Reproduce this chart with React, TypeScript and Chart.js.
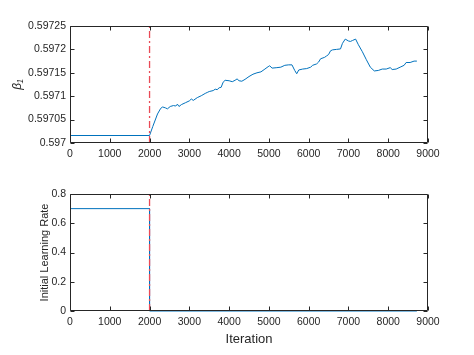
import React, { useEffect, useRef } from "react";
import { Chart, registerables } from "chart.js";

Chart.register(...registerables);

// ---- data ----
const iterTop = [
  0, 2000, 2080, 2200, 2280, 2330, 2400, 2450, 2520, 2600, 2660, 2700, 2740, 2800, 2900, 3000, 3050, 3100,
  3200, 3300, 3400, 3450, 3500, 3600, 3650, 3700, 3750, 3800, 3850, 3900, 4000, 4080, 4150, 4200, 4250,
  4320, 4400, 4500, 4600, 4700, 4800, 4900, 4980, 5020, 5080, 5200, 5300, 5400, 5500, 5580, 5650, 5700,
  5750, 5850, 5950, 6050, 6100, 6200, 6250, 6300, 6400, 6450, 6500, 6550, 6600, 6700, 6800, 6850, 6920,
  7000, 7050, 7100, 7180, 7250, 7350, 7450, 7550, 7650, 7750, 7850, 7950, 8050, 8100, 8200, 8300, 8400,
  8450, 8550, 8650, 8720,
];
const betaTop = [
  0.597016, 0.597016, 0.597035, 0.597062, 0.597074, 0.597077, 0.597075, 0.597073, 0.597078, 0.59708,
  0.597079, 0.597083, 0.597078, 0.597082, 0.597086, 0.59709, 0.597094, 0.597091, 0.597097, 0.597101,
  0.597106, 0.597108, 0.59711, 0.597112, 0.597115, 0.597114, 0.597118, 0.597119, 0.59713, 0.597134,
  0.597133, 0.597131, 0.597134, 0.597137, 0.597133, 0.597132, 0.597136, 0.597142, 0.597147, 0.59715,
  0.597152, 0.597158, 0.597163, 0.597165, 0.59716, 0.597161, 0.597162, 0.597166, 0.597167, 0.597167,
  0.597155, 0.597148, 0.597156, 0.597158, 0.597159, 0.597162, 0.597166, 0.597169, 0.597173, 0.59718,
  0.597183, 0.597186, 0.597189, 0.597197, 0.597199, 0.5972, 0.597201, 0.597213, 0.597222, 0.597218,
  0.597217, 0.597219, 0.597222, 0.59721, 0.597195, 0.597178, 0.597162, 0.597154, 0.597155, 0.597158,
  0.597158, 0.597161, 0.597157, 0.597158, 0.597162, 0.597166, 0.597172, 0.597172, 0.597175, 0.597175,
];
const iterBottom = [0, 2000, 2000, 8720];
const rateBottom = [0.7, 0.7, 0, 0];
const switchIteration = 2000;

const xTicks = [0, 1000, 2000, 3000, 4000, 5000, 6000, 7000, 8000, 9000];
const yTicksTop = [0.597, 0.59705, 0.5971, 0.59715, 0.5972, 0.59725];
const yTicksBottom = [0, 0.2, 0.4, 0.6, 0.8];

const FONT = "'Liberation Sans', Arial, Helvetica, sans-serif";
const BLUE = "#0072BD";
const RED = "#EA4A56";
const AXIS = "#262626";

const fmt = (v: number) => String(Number(v.toFixed(6)));

const boxPlugin = {
  id: "matlabBox",
  afterDatasetsDraw(chart: any) {
    const { ctx, chartArea: a, scales } = chart;
    const tl = 4;
    ctx.save();
    ctx.setLineDash([]);
    ctx.strokeStyle = AXIS;
    ctx.lineWidth = 1;
    ctx.beginPath();
    const L = Math.round(a.left) + 0.5;
    const R = Math.round(a.right) - 0.5;
    const T = Math.round(a.top) + 0.5;
    const B = Math.round(a.bottom) - 0.5;
    ctx.rect(L, T, R - L, B - T);
    scales.x.ticks.forEach((t: any) => {
      const px = Math.round(scales.x.getPixelForValue(t.value)) + 0.5;
      ctx.moveTo(px, B);
      ctx.lineTo(px, B - tl);
      ctx.moveTo(px, T);
      ctx.lineTo(px, T + tl);
    });
    scales.y.ticks.forEach((t: any) => {
      const py = Math.round(scales.y.getPixelForValue(t.value)) + 0.5;
      ctx.moveTo(L, py);
      ctx.lineTo(L + tl, py);
      ctx.moveTo(R, py);
      ctx.lineTo(R - tl, py);
    });
    ctx.stroke();
    ctx.restore();
  },
};

function makeConfig(opts: {
  xs: number[];
  ys: number[];
  yTicks: number[];
  yTitle: string;
  yTitleItalic: boolean;
  yTitlePad: number;
  xTitle: string | null;
  padTop: number;
  xHeight: number;
}) {
  const yMin = opts.yTicks[0];
  const yMax = opts.yTicks[opts.yTicks.length - 1];
  return {
    type: "line" as const,
    data: {
      datasets: [
        {
          label: "series",
          data: opts.xs.map((x, i) => ({ x, y: opts.ys[i] })),
          borderColor: BLUE,
          backgroundColor: BLUE,
          borderWidth: 1,
          pointRadius: 0,
          fill: false,
          tension: 0,
          clip: 3,
          order: 2,
        },
        {
          label: "switch",
          data: [
            { x: switchIteration, y: yMin },
            { x: switchIteration, y: yMax },
          ],
          borderColor: RED,
          backgroundColor: RED,
          borderWidth: 1.3,
          borderDash: [7, 3, 2, 3],
          pointRadius: 0,
          fill: false,
          order: 1,
        },
      ],
    },
    options: {
      responsive: false,
      animation: false,
      events: [],
      layout: { padding: { top: opts.padTop, right: 46, left: 0, bottom: 0 } },
      plugins: { legend: { display: false }, tooltip: { enabled: false } },
      scales: {
        x: {
          type: "linear",
          min: 0,
          max: 9000,
          afterBuildTicks: (s: any) => {
            s.ticks = xTicks.map((v) => ({ value: v }));
          },
          afterFit: (s: any) => {
            s.height = opts.xHeight;
          },
          grid: { display: false, drawTicks: false },
          border: { display: false },
          ticks: {
            padding: 5,
            color: AXIS,
            font: { family: FONT, size: 10.5 },
            maxRotation: 0,
            callback: (v: any) => String(v),
          },
          title: opts.xTitle
            ? {
                display: true,
                text: opts.xTitle,
                color: AXIS,
                font: { family: FONT, size: 13 },
                padding: { top: 2, bottom: 8 },
              }
            : { display: false },
        },
        y: {
          type: "linear",
          min: yMin,
          max: yMax,
          afterBuildTicks: (s: any) => {
            s.ticks = opts.yTicks.map((v) => ({ value: v }));
          },
          afterFit: (s: any) => {
            s.width = 70;
          },
          grid: { display: false, drawTicks: false },
          border: { display: false },
          ticks: {
            padding: 4,
            color: AXIS,
            font: { family: FONT, size: 10.5 },
            callback: (v: any) => fmt(Number(v)),
          },
          title: {
            display: true,
            text: opts.yTitle,
            color: AXIS,
            font: { family: FONT, size: opts.yTitleItalic ? 12 : 11, style: opts.yTitleItalic ? "italic" : "normal" },
            padding: { top: opts.yTitlePad, bottom: 0 },
          },
        },
      },
    },
    plugins: [boxPlugin],
  };
}

function ChartCanvas(props: { top: number; height: number; config: any }) {
  const ref = useRef<HTMLCanvasElement>(null);
  useEffect(() => {
    if (!ref.current) return;
    const c = new Chart(ref.current, props.config);
    return () => c.destroy();
  }, []);
  return (
    <canvas
      ref={ref}
      width={474}
      height={props.height}
      style={{ position: "absolute", left: 0, top: props.top, width: 474, height: props.height }}
    />
  );
}

export default function App() {
  const topCfg = makeConfig({
    xs: iterTop,
    ys: betaTop,
    yTicks: yTicksTop,
    yTitle: "β₁",
    yTitleItalic: true,
    yTitlePad: 10,
    xTitle: null,
    padTop: 26,
    xHeight: 27,
  });
  const botCfg = makeConfig({
    xs: iterBottom,
    ys: rateBottom,
    yTicks: yTicksBottom,
    yTitle: "Initial Learning Rate",
    yTitleItalic: false,
    yTitlePad: 38,
    xTitle: "Iteration",
    padTop: 24,
    xHeight: 44,
  });
  return (
    <div style={{ position: "absolute", left: 0, top: 0, width: 474, height: 355, background: "#fff" }}>
      <ChartCanvas top={0} height={170} config={topCfg} />
      <ChartCanvas top={170} height={185} config={botCfg} />
    </div>
  );
}
